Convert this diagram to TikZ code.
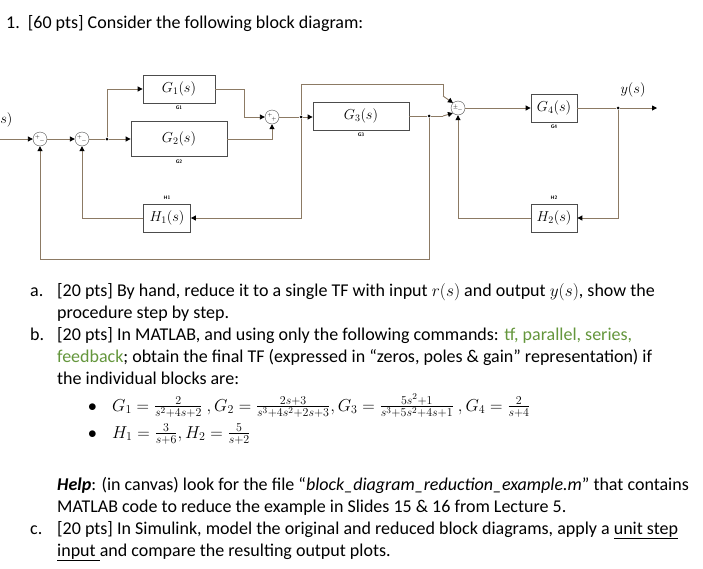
\documentclass[tikz,border=0pt]{standalone}
\usepackage{fontspec}
\setmainfont{Carlito}
\usetikzlibrary{arrows.meta}
\definecolor{wire}{RGB}{140,122,100}
\definecolor{cmd}{RGB}{100,150,60}
\begin{document}
\begin{tikzpicture}[x=1pt,y=-1pt,
  wire/.style={draw=wire,line width=0.9pt},
  arr/.style={wire,-{Triangle[length=5pt,width=5pt,black]}},
  blk/.style={draw=black!70,fill=white,line width=0.8pt,minimum height=28pt,inner sep=0pt,font=\Large},
  sum/.style={circle,draw=black!70,fill=white,minimum size=14pt,inner sep=0pt},
  tag/.style={font=\sffamily\bfseries\tiny},
  dot/.style={circle,fill=black,inner sep=0pt,minimum size=3pt},
  txt/.style={anchor=base west,font=\fontsize{18}{21}\selectfont,inner sep=0pt}]
\useasboundingbox (0,0) rectangle (703,568);
% blocks
\node[blk,minimum width=72pt] (g1) at (179,89) {$G_1(s)$};
\node[blk,minimum width=96pt,minimum height=35pt] (g2) at (179,139) {$G_2(s)$};
\node[blk,minimum width=96pt] (g3) at (361,116) {$G_3(s)$};
\node[blk,minimum width=46pt] (g4) at (554,108) {$G_4(s)$};
\node[blk,minimum width=47pt] (h1) at (167,218) {$H_1(s)$};
\node[blk,minimum width=46pt] (h2) at (554,218) {$H_2(s)$};
\node[tag] at (179,108) {G1};
\node[tag] at (179,162) {G2};
\node[tag] at (361,135) {G3};
\node[tag] at (554,127) {G4};
\node[tag] at (167,198) {H1};
\node[tag] at (554,198) {H2};
% summers
\node[sum] (s1) at (40,139) {};
\node[sum] (s2) at (82,139) {};
\node[sum] (s3) at (272,117) {};
\node[sum] (s4) at (458,108) {};
\foreach \s in {s1,s2}{
  \node[font=\tiny] at ([xshift=-2.5pt,yshift=1.5pt]\s.center) {$+$};
  \node[font=\tiny] at ([xshift=2pt,yshift=-2pt]\s.center) {$-$};}
\node[font=\tiny] at ([xshift=-2pt,yshift=2pt]s3.center) {$+$};
\node[font=\tiny] at ([xshift=2pt,yshift=-2pt]s3.center) {$+$};
\node[font=\tiny] at ([xshift=-2.5pt,yshift=1pt]s4.center) {$\pm$};
\node[font=\tiny] at ([xshift=2pt,yshift=-2pt]s4.center) {$-$};
% points
\coordinate (in) at (0,139);
\node[dot] (b1) at (107,139) {};
\node[dot] (b2) at (301,117) {};
\node[dot] (b3) at (429,116) {};
\node[dot] (b4) at (618,108) {};
\coordinate (out) at (657,108);
\node[font=\Large] (ylab) at (633,90) {$y(s)$};
\node[font=\Large,anchor=east] (rlab) at (16,120) {$r(s)$};
% wires
\draw[arr] (in) -- (s1);
\draw[arr] (s1) -- (s2);
\draw[wire] (s2) -- (b1);
\draw[arr] (b1) -- (g2);
\draw[arr] (b1) |- (g1);
\draw[arr] (g1.east) -| ([xshift=-20pt]s3.west) -- (s3);
\draw[arr] (g2.east) -| (s3);
\draw[wire] (s3) -- (b2);
\draw[arr] (b2) -- (g3.west |- b2);
\draw[arr] (b2) |- (h1);
\draw[arr] (h1) -| (s2);
\draw[wire] (b2) |- (443,84) -- (443,96);
\draw[arr] (443,96) -- (s4.north west);
\draw[wire] (g3.east |- b3) -- (b3) -- (443,116);
\draw[arr] (443,116) -- (s4.south west);
\draw[arr] (b3) |- (40,259) -- (s1);
\draw[arr] (s4) -- (g4);
\draw[wire] (g4) -- (b4);
\draw[arr] (b4) -- (out);
\draw[arr] (b4) |- (h2);
\draw[arr] (h2) -| (s4);
% text
\node[txt] (t0) at (6,28) {1.\hspace{8pt}[60 pts] Consider the following block diagram:};
\node[txt] (ta) at (30,296) {a.};
\node[txt] at (57,296) {[20 pts] By hand, reduce it to a single TF with input $r(s)$ and output $y(s)$, show the};
\node[txt] at (57,318) {procedure step by step.};
\node[txt] (tb) at (30,340) {b.};
\node[txt] at (57,340) {[20 pts] In MATLAB, and using only the following commands: \textcolor{cmd}{tf, parallel, series,}};
\node[txt] at (57,362) {\textcolor{cmd}{feedback}; obtain the final TF (expressed in “zeros, poles \& gain” representation) if};
\node[txt] at (57,384) {the individual blocks are:};
\node[txt] at (88,411) {$\bullet$};
\node[txt] at (112,411) {$G_1=\frac{2}{s^2+4s+2}\ ,G_2=\frac{2s+3}{s^3+4s^2+2s+3},G_3=\frac{5s^2+1}{s^3+5s^2+4s+1}\ ,G_4=\frac{2}{s+4}$};
\node[txt] at (88,438) {$\bullet$};
\node[txt] at (112,438) {$H_1=\frac{3}{s+6},H_2=\frac{5}{s+2}$};
\node[txt] at (57,490) {\textbf{\textit{Help}}: (in canvas) look for the file “\textit{block\_diagram\_reduction\_example.m}” that contains};
\node[txt] at (57,512) {MATLAB code to reduce the example in Slides 15 \& 16 from Lecture 5.};
\node[txt] (tc) at (30,534) {c.};
\node[txt] at (57,534) {[20 pts] In Simulink, model the original and reduced block diagrams, apply a \underline{unit step}};
\node[txt] at (57,556) {\underline{input }and compare the resulting output plots.};
\end{tikzpicture}
\end{document}
